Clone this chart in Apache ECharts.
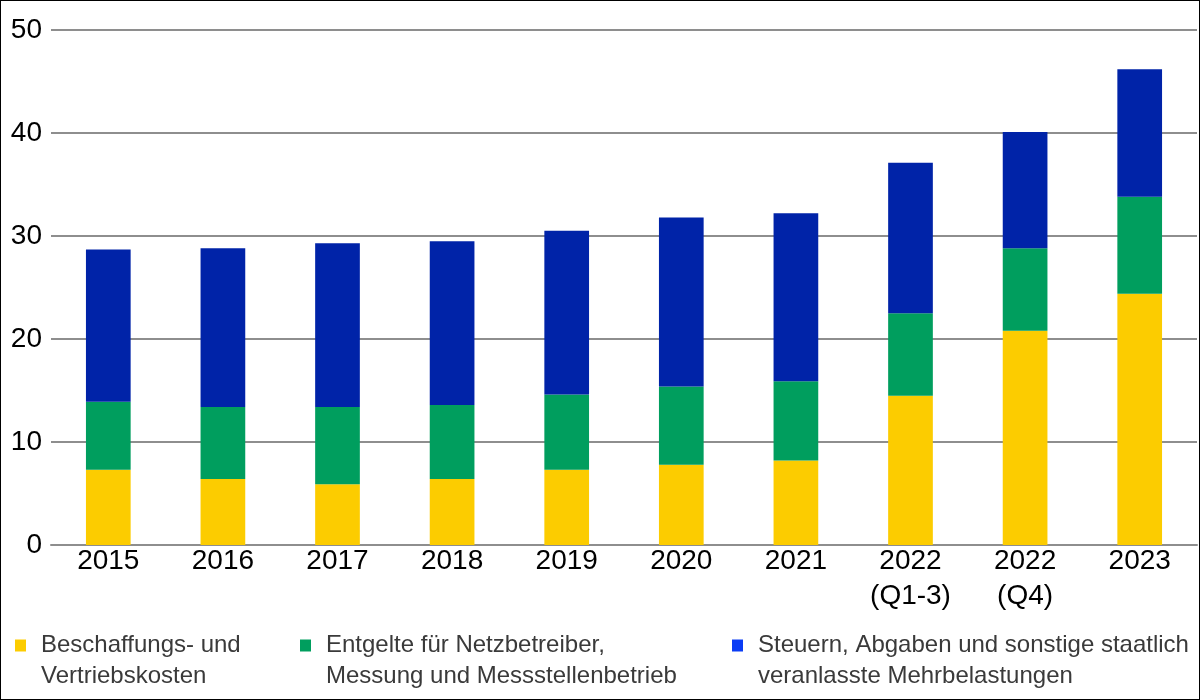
<!DOCTYPE html>
<html>
<head>
<meta charset="utf-8">
<script src="https://cdn.jsdelivr.net/npm/echarts@6/dist/echarts.min.js"></script>
<style>
  html, body { margin: 0; padding: 0; background: #fff; }
  #chart { width: 1200px; height: 700px; box-sizing: border-box; border: 1px solid #000; }
</style>
</head>
<body>
<div id="chart"></div>
<script>
// Daten
var categories = ['2015', '2016', '2017', '2018', '2019', '2020', '2021', '2022\n(Q1-3)', '2022\n(Q4)', '2023'];
var beschaffung = [7.3, 6.4, 5.9, 6.4, 7.3, 7.8, 8.2, 14.5, 20.8, 24.4];
var entgelte = [6.6, 7.0, 7.5, 7.2, 7.3, 7.6, 7.7, 8.0, 8.0, 9.4];
var steuern = [14.8, 15.4, 15.9, 15.9, 15.9, 16.4, 16.3, 14.6, 11.3, 12.4];
var seriesNames = [
  'Beschaffungs- und Vertriebskosten',
  'Entgelte für Netzbetreiber, Messung und Messstellenbetrieb',
  'Steuern, Abgaben und sonstige staatlich veranlasste Mehrbelastungen'
];
var legendLabels = [
  ['Beschaffungs- und', 'Vertriebskosten'],
  ['Entgelte für Netzbetreiber,', 'Messung und Messstellenbetrieb'],
  ['Steuern, Abgaben und sonstige staatlich', 'veranlasste Mehrbelastungen']
];
var colors = ['#fccc00', '#009e5e', '#0023a8'];
var legendColors = ['#fccc00', '#009e5e', '#0a3cf5'];

var chart = echarts.init(document.getElementById('chart'));

// leere erste Zeile, damit das Symbol neben der ersten Textzeile steht
function makeLegend(i, left) {
  return {
    left: left,
    top: 598,
    padding: 0,
    itemWidth: 11,
    itemHeight: 12,
    itemGap: 0,
    icon: 'rect',
    data: [{ name: seriesNames[i], itemStyle: { color: legendColors[i] } }],
    formatter: function () { return ' \n' + legendLabels[i][0] + '\n' + legendLabels[i][1]; },
    selectedMode: false,
    textStyle: {
      fontFamily: 'Liberation Sans, Arial, sans-serif',
      fontSize: 24,
      color: '#3a3a3a',
      lineHeight: 31,
      padding: [0, 0, 0, 10]
    }
  };
}

function makeSeries(i, data) {
  return {
    name: seriesNames[i],
    type: 'bar',
    stack: 'total',
    barWidth: '39%',
    itemStyle: { color: colors[i] },
    data: data
  };
}

chart.setOption({
  animation: false,
  textStyle: { fontFamily: 'Liberation Sans, Arial, sans-serif' },
  grid: { left: 50, right: 2, top: 29, bottom: 154, containLabel: false },
  legend: [makeLegend(0, 14), makeLegend(1, 299), makeLegend(2, 731)],
  xAxis: {
    type: 'category',
    data: categories,
    axisLine: { show: true, lineStyle: { color: '#8e8e8e', width: 2 } },
    axisTick: { show: false },
    axisLabel: {
      color: '#000',
      fontSize: 28,
      lineHeight: 35,
      margin: -1,
      interval: 0
    }
  },
  yAxis: {
    type: 'value',
    min: 0,
    max: 50,
    interval: 10,
    axisLine: { show: false },
    axisTick: { show: false },
    axisLabel: { color: '#000', fontSize: 28, margin: 9 },
    splitLine: { lineStyle: { color: '#8e8e8e', width: 2 } }
  },
  series: [
    makeSeries(0, beschaffung),
    makeSeries(1, entgelte),
    makeSeries(2, steuern)
  ]
});
</script>
</body>
</html>
